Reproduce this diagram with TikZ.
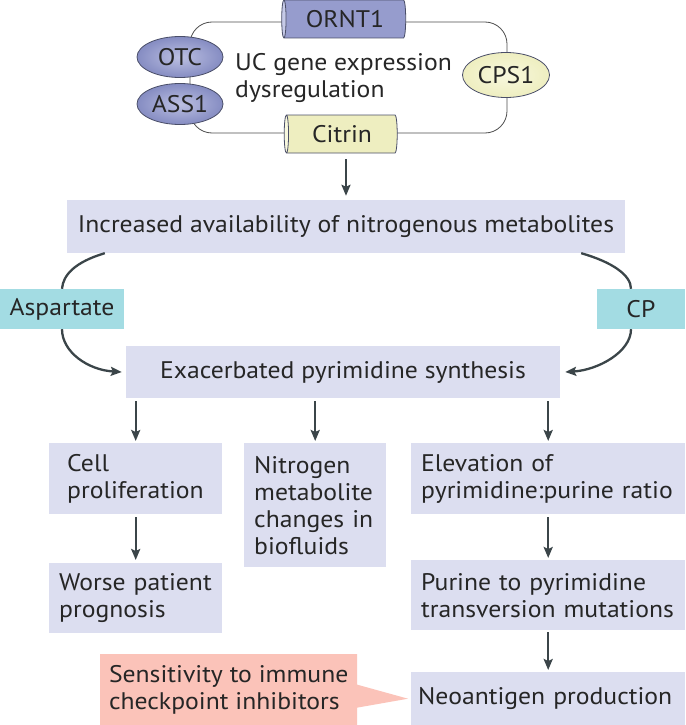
\documentclass[tikz,border=0pt]{standalone}
\usepackage{fontspec}
\setmainfont{PT Sans}[FakeStretch=1.07]
\usetikzlibrary{arrows.meta,shapes.geometric,shapes.callouts}
\definecolor{boxc}{HTML}{DCDEF0}
\definecolor{tealc}{HTML}{A3DCE3}
\definecolor{pinkc}{HTML}{FBC3B9}
\definecolor{arrc}{HTML}{3B4549}
\definecolor{txtc}{HTML}{262626}
\definecolor{purpin}{HTML}{BCC0E2}
\definecolor{purpout}{HTML}{858CC2}
\definecolor{yelbody}{HTML}{EEEEC0}
\definecolor{yelend}{HTML}{F8F8DE}
\definecolor{purbody}{HTML}{969CCD}
\definecolor{purend}{HTML}{C6CAE8}
\definecolor{outc}{HTML}{4A4E68}
\tikzset{
  txt/.style={font=\fontsize{24}{27}\selectfont, text=txtc},
  bx/.style={txt, fill=boxc, inner ysep=0pt, align=left},
  arr/.style={draw=arrc, line width=2.3pt, -{Stealth[length=11pt,width=9pt,inset=2pt]}},
  ringline/.style={draw=black!70, line width=0.8pt},
  enz/.style={ellipse, draw=outc, line width=0.8pt, inner color=purpin, outer color=purpout, txt, minimum width=86pt, minimum height=41pt, inner sep=0pt},
}
\begin{document}
\begin{tikzpicture}[x=1pt,y=-1pt]
\useasboundingbox (0,0) rectangle (685,725);
% ring
\draw[ringline, rounded corners=22pt] (190,22) rectangle (507,133);
% ring members
\node[cylinder, shape border rotate=180, aspect=0.25, draw=outc, line width=0.8pt,
  minimum height=124pt, minimum width=38pt, inner sep=0pt,
  cylinder uses custom fill, cylinder body fill=purbody, cylinder end fill=purend, txt]
  (ornt) at (345,19) {ORNT1};
\node[cylinder, shape border rotate=180, aspect=0.25, draw=outc, line width=0.8pt,
  minimum height=113pt, minimum width=38pt, inner sep=0pt,
  cylinder uses custom fill, cylinder body fill=yelbody, cylinder end fill=yelend, txt]
  (citrin) at (342,134) {Citrin};
\node[enz] (otc) at (180,57) {OTC};
\node[enz] (ass) at (180,104) {ASS1};
\node[ellipse, draw=outc, line width=0.8pt, inner color=yelend, outer color=yelbody, txt,
  minimum width=87pt, minimum height=45pt, inner sep=0pt] (cps) at (506,75) {CPS1};
\node[txt, anchor=north west, align=left, inner sep=0pt] (uc) at (235,53) {UC gene expression\\dysregulation};
% main boxes
\node[bx, minimum width=558pt, minimum height=53pt, align=center] (inc) at (346,226.5)
  {Increased availability of nitrogenous metabolites};
\node[txt, fill=tealc, minimum width=124pt, minimum height=40pt, inner sep=0pt] (asp) at (62,309) {Aspartate};
\node[txt, fill=tealc, minimum width=88pt, minimum height=40pt, inner sep=0pt] (cp) at (641,309) {CP};
\node[bx, minimum width=434pt, minimum height=52pt, align=center] (exa) at (343,372)
  {Exacerbated pyrimidine synthesis};
% lower boxes
\node[bx, anchor=north west, inner xsep=18pt, text width=137pt, minimum height=71pt] (cell) at (49,443)
  {Cell\\proliferation};
\node[bx, anchor=north west, inner xsep=10pt, text width=153pt, minimum height=70pt] (worse) at (49,563)
  {Worse patient\\prognosis};
\node[bx, anchor=north west, inner xsep=10pt, text width=122pt, minimum height=124pt] (nit) at (244,443)
  {Nitrogen\\metabolite\\changes in\\biofluids};
\node[bx, anchor=north west, inner xsep=10pt, text width=254pt, minimum height=71pt] (elev) at (411,443)
  {Elevation of\\pyrimidine:purine ratio};
\node[bx, anchor=north west, inner xsep=10pt, text width=254pt, minimum height=70pt] (pur) at (411,560)
  {Purine to pyrimidine\\transversion mutations};
\node[bx, anchor=north west, inner xsep=7pt, text width=260pt, minimum height=53pt] (neo) at (411,672)
  {Neoantigen production};
\node[rectangle callout, txt, fill=pinkc, anchor=north west, inner xsep=6pt, inner ysep=0pt,
  minimum width=257pt, minimum height=71pt, align=left,
  callout absolute pointer={([xshift=-3pt]neo.west)}, callout pointer width=23pt] (sens) at (100,654)
  {Sensitivity to immune\\checkpoint inhibitors};
% arrows
\draw[arr, shorten <=6pt, shorten >=4pt] (citrin.south -| inc.north) -- (inc.north);
\draw[draw=arrc, line width=2.3pt] ([xshift=38pt]inc.south west) .. controls (75,262) and (63,275) .. (asp.north);
\draw[arr] (asp.south) .. controls (62,352) and (88,370) .. ([xshift=-4pt]exa.west);
\draw[draw=arrc, line width=2.3pt] ([xshift=-44pt]inc.south east) .. controls (612,262) and (631,275) .. ([xshift=-10pt]cp.north);
\draw[arr] ([xshift=-10pt]cp.south) .. controls (631,352) and (598,370) .. ([xshift=5pt]exa.east);
\draw[arr, shorten <=3pt, shorten >=2pt] (exa.south -| cell.north) -- (cell.north);
\draw[arr, shorten <=3pt, shorten >=2pt] (exa.south -| nit.north) -- (nit.north);
\draw[arr, shorten <=3pt, shorten >=2pt] (exa.south -| elev.north) -- (elev.north);
\draw[arr, shorten <=3pt, shorten >=3pt] (cell.south) -- (worse.north -| cell.south);
\draw[arr, shorten <=3pt, shorten >=2pt] (elev.south) -- (pur.north);
\draw[arr, shorten <=2pt, shorten >=2pt] (pur.south) -- (neo.north -| pur.south);
\end{tikzpicture}
\end{document}
